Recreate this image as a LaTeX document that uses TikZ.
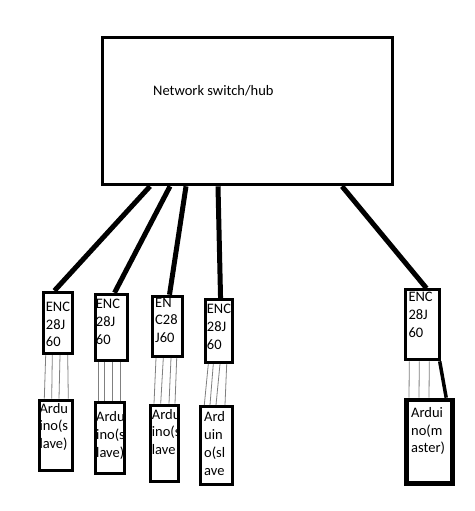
\documentclass[tikz,border=0pt]{standalone}
\usepackage{fontspec}
\setmainfont{Carlito}
\usepackage{tikz}
\usetikzlibrary{calc}
\tikzstyle{box}=[draw=black,line width=3pt,anchor=north west,inner sep=0pt]
\tikzstyle{lbl}=[anchor=north west,inner sep=0pt,align=left,font=\fontsize{14.5}{17.7}\selectfont]
\tikzstyle{link}=[line width=5pt]
\tikzstyle{wire}=[draw=gray,line width=0.8pt]

\begin{document}
\begin{tikzpicture}[x=1pt,y=-1pt]
      \useasboundingbox (0,0) rectangle (474,511);

      \node[box,line width=3.3pt,minimum width=290pt,minimum height=147pt] (sw) at (101,36) {};
      \node[lbl,anchor=west,font=\fontsize{14.5}{17.7}\selectfont] (swt) at (153,91) {Network switch/hub};

      % ENC28J60 modules
      \foreach \n/\x/\y/\w/\h in {1/42.3/290.7/28.7/61.3,2/93.7/292.7/32.3/66.3,
          3/151.3/294.7/30/60.3,4/203.7/298/27.3/63,5/404.3/288.3/34/70}{
        \node[box,minimum width=\w pt,minimum height=\h pt] (e\n) at (\x,\y) {};
      }

      % arduinos
      \foreach \n/\x/\y/\w/\h in {1/37.7/398.7/33.3/70.3,2/93.7/401/29/71,
          3/149/403.7/28/76.3,4/199/405/32/78}{
        \node[box,minimum width=\w pt,minimum height=\h pt] (a\n) at (\x,\y) {};
      }
      \node[box,line width=4.5pt,minimum width=46pt,minimum height=83.3pt] (a5) at (404,397.7) {};

      \node[lbl] (te1) at ([shift={(3.4,11)}]e1.north west) {ENC\\28J\\60};
      \node[lbl] (te2) at ([shift={(2,6.6)}]e2.north west) {ENC\\28J\\60};
      \node[lbl] (te3) at ([shift={(3.7,3)}]e3.north west) {EN\\C28\\J60};
      \node[lbl] (te4) at ([shift={(3,6.3)}]e4.north west) {ENC\\28J\\60};
      \node[lbl] (te5) at ([shift={(4,4)}]e5.north west) {ENC\\28J\\60};

      \node[lbl] (ta1) at ([shift={(1.6,4.3)}]a1.north west) {Ardu\\ino(s\\lave)};
      \node[lbl] (ta2) at ([shift={(2.3,10.7)}]a2.north west) {Ardu\\ino(s\\lave)};
      \node[lbl] (ta3) at ([shift={(2.7,5.3)}]a3.north west) {Ardu\\ino(s\\lave};
      \node[lbl] (ta4) at ([shift={(5,6.7)}]a4.north west) {Ard\\uin\\o(sl\\ave};
      \node[lbl] (ta5) at ([shift={(7,9.6)}]a5.north west) {Ardui\\no(m\\aster)};

      % cables to the switch
      \draw[link] ([xshift=49]sw.south west) -- ([xshift=-3.7]e1.north);
      \draw[link] ([xshift=69]sw.south west) -- ([xshift=3.2]e2.north);
      \draw[link] ([xshift=85]sw.south west) -- ([xshift=1.7]e3.north);
      \draw[link] ([xshift=117]sw.south west) -- ([xshift=1.7]e4.north);
      \draw[link] ([xshift=241]sw.south west) -- ([xshift=3.7]e5.north);

      % spi wires
      \foreach \t/\b in {3.4/6.6,10/14,17.7/21.3,25.4/30.6}
        \draw[wire] ([xshift=\t]e1.south west) -- ([xshift=\b]a1.north west);
      \foreach \t/\b in {5/5,11/11,18.6/18.6,27/27}
        \draw[wire] ([xshift=\t]e2.south west) -- ([xshift=\b]a2.north west);
      \foreach \t/\b in {4.7/5,12/11.7,19.7/20,25.4/26}
        \draw[wire] ([xshift=\t]e3.south west) -- ([xshift=\b]a3.north west);
      \foreach \t/\b in {4.6/5.3,9.6/11,16.3/17,23/26}
        \draw[wire] ([xshift=\t]e4.south west) -- ([xshift=\b]a4.north west);
      \foreach \t in {5,15,25}
        \draw[wire] ([xshift=\t]e5.south west) -- ([xshift=\t]a5.north west);
      \draw[line width=3.5pt] ([xshift=-1.6]e5.south east) -- ([xshift=-8.3]a5.north east);
\end{tikzpicture}
\end{document}
